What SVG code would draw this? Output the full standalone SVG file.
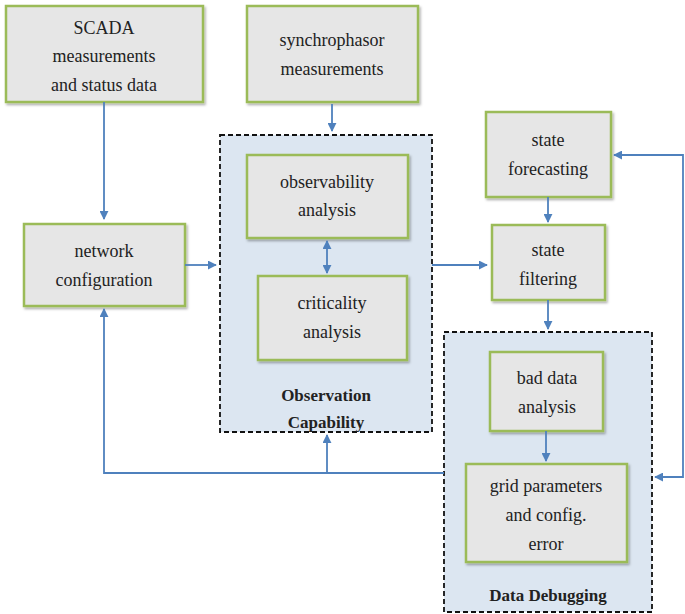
<svg xmlns="http://www.w3.org/2000/svg" width="685" height="614" viewBox="0 0 685 614">
<style>
.n{fill:#e6e6e6;stroke:#9bbb59;stroke-width:2.5;filter:url(#sh)}
.c{fill:#dce6f1;stroke:#111;stroke-width:1.8;stroke-dasharray:5,3}
text{font-family:"Liberation Serif",serif;font-size:18px;fill:#222;text-anchor:middle}
.b{font-weight:bold;font-size:17px}
.e{fill:none;stroke:#4f81bd;stroke-width:1.8}
</style>
<defs>
<filter id="sh" x="-10%" y="-10%" width="130%" height="130%"><feDropShadow dx="1.5" dy="2" stdDeviation="1.2" flood-color="#000" flood-opacity="0.3"/></filter>
<marker id="a" viewBox="0 0 10 10" refX="9" refY="5" markerWidth="5" markerHeight="5" orient="auto-start-reverse"><path d="M0,0L10,5L0,10z" fill="#4f81bd"/></marker>
</defs>
<g id="obs-cluster"><rect class="c" x="220" y="135" width="212" height="297"/><text class="b" x="326" y="401">Observation</text><text class="b" x="326" y="428">Capability</text></g>
<g id="dd-cluster"><rect class="c" x="444" y="332" width="208" height="280"/><text class="b" x="548" y="601">Data Debugging</text></g>
<g id="scada"><rect class="n" x="6" y="6" width="197" height="96"/><text x="104" y="34">SCADA</text><text x="104" y="62">measurements</text><text x="104" y="91">and status data</text></g>
<g id="synchro"><rect class="n" x="247" y="6" width="171" height="96"/><text x="332" y="46">synchrophasor</text><text x="332" y="75">measurements</text></g>
<g id="observability"><rect class="n" x="247" y="155" width="161" height="83"/><text x="327" y="188">observability</text><text x="327" y="216">analysis</text></g>
<g id="criticality"><rect class="n" x="258" y="276" width="149" height="84"/><text x="332" y="309">criticality</text><text x="332" y="338">analysis</text></g>
<g id="network"><rect class="n" x="24" y="224" width="161" height="82"/><text x="104" y="257">network</text><text x="104" y="286">configuration</text></g>
<g id="forecast"><rect class="n" x="486" y="112" width="125" height="85"/><text x="548" y="146">state</text><text x="548" y="175">forecasting</text></g>
<g id="filter"><rect class="n" x="492" y="225" width="113" height="75"/><text x="548" y="256">state</text><text x="548" y="285">filtering</text></g>
<g id="baddata"><rect class="n" x="490" y="352" width="113" height="79"/><text x="547" y="384">bad data</text><text x="547" y="413">analysis</text></g>
<g id="grid"><rect class="n" x="466" y="464" width="161" height="98"/><text x="546" y="492">grid parameters</text><text x="546" y="521">and config.</text><text x="546" y="550">error</text></g>
<g id="connectors">
<path class="e" d="M104,102V219" marker-end="url(#a)"/>
<path class="e" d="M332,104V131" marker-end="url(#a)"/>
<path class="e" d="M185,265H216" marker-end="url(#a)"/>
<path class="e" d="M327,241V273" marker-start="url(#a)" marker-end="url(#a)"/>
<path class="e" d="M432,265H487" marker-end="url(#a)"/>
<path class="e" d="M548,197V222" marker-end="url(#a)"/>
<path class="e" d="M548,300V329" marker-end="url(#a)"/>
<path class="e" d="M546,431V461" marker-end="url(#a)"/>
<path class="e" d="M655,477H683V155H614" marker-start="url(#a)" marker-end="url(#a)"/>
<path class="e" d="M444,473H104V309" marker-end="url(#a)"/>
<path class="e" d="M327,473V435" marker-end="url(#a)"/>
</g>
</svg>
